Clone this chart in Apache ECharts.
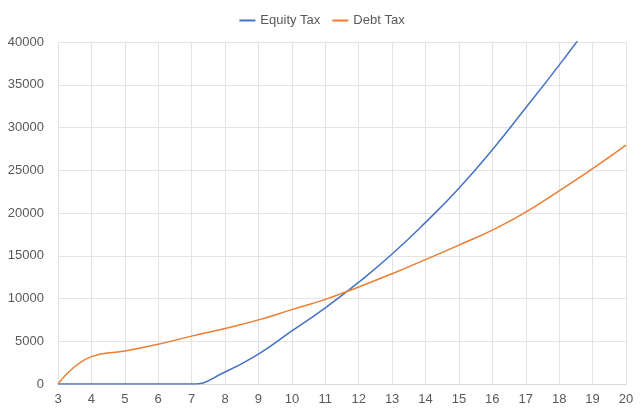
<!DOCTYPE html>
<html>
<head>
<meta charset="utf-8">
<script src="https://cdn.jsdelivr.net/npm/echarts@6/dist/echarts.min.js"></script>
<style>
  html, body { margin: 0; padding: 0; background: #fff; }
  #chart { width: 644px; height: 417px; }
</style>
</head>
<body>
<div id="chart"></div>
<script>
// values, one per integer x
const xValues = [3, 4, 5, 6, 7, 8, 9, 10, 11, 12, 13, 14, 15, 16, 17, 18, 19, 20];
const equityTax = [0, 0, 0, 0, 0, 1400, 3500, 6200, 8900, 11900, 15200, 18900, 22900, 27400, 32300, 37300, 42500, 47800];
const debtTax = [0, 3200, 3850, 4650, 5600, 6500, 7500, 8700, 9900, 11350, 12900, 14550, 16250, 18000, 20100, 22600, 25200, 27950];
const seriesNames = ['Equity Tax', 'Debt Tax'];

const pairs = (ys) => xValues.map((x, i) => [x, ys[i]]);

const chart = echarts.init(document.getElementById('chart'));
const txt = '#595959';
const grid = '#e3e3e3';

chart.setOption({
    animation: false,
    color: ['#4472C4', '#ED7D31'],
    textStyle: { fontFamily: 'Liberation Sans' },
    legend: {
        top: 9,
        left: 'center',
        icon: 'rect',
        itemWidth: 16,
        itemHeight: 2,
        itemGap: 12,
        textStyle: { color: txt, fontSize: 13, fontFamily: 'Liberation Sans' },
        data: seriesNames
    },
    grid: { left: 58, right: 18, top: 42, bottom: 33, containLabel: false },
    xAxis: {
        type: 'value',
        min: 3,
        max: 20,
        interval: 1,
        axisLine: { lineStyle: { color: '#d9d9d9' } },
        axisTick: { show: false },
        axisLabel: { color: txt, fontSize: 13, margin: 9 },
        splitLine: { show: true, lineStyle: { color: grid } }
    },
    yAxis: {
        type: 'value',
        min: 0,
        max: 40000,
        interval: 5000,
        axisLine: { show: false },
        axisTick: { show: false },
        axisLabel: { color: txt, fontSize: 13, margin: 14, formatter: (v) => String(v) },
        splitLine: { lineStyle: { color: grid } }
    },
    series: [
        {
            name: seriesNames[0],
            type: 'line',
            smooth: 0.5,
            showSymbol: false,
            clip: true,
            lineStyle: { width: 1.5 },
            data: pairs(equityTax)
        },
        {
            name: seriesNames[1],
            type: 'line',
            smooth: 0.5,
            showSymbol: false,
            clip: true,
            lineStyle: { width: 1.5 },
            data: pairs(debtTax)
        }
    ]
});
</script>
</body>
</html>
